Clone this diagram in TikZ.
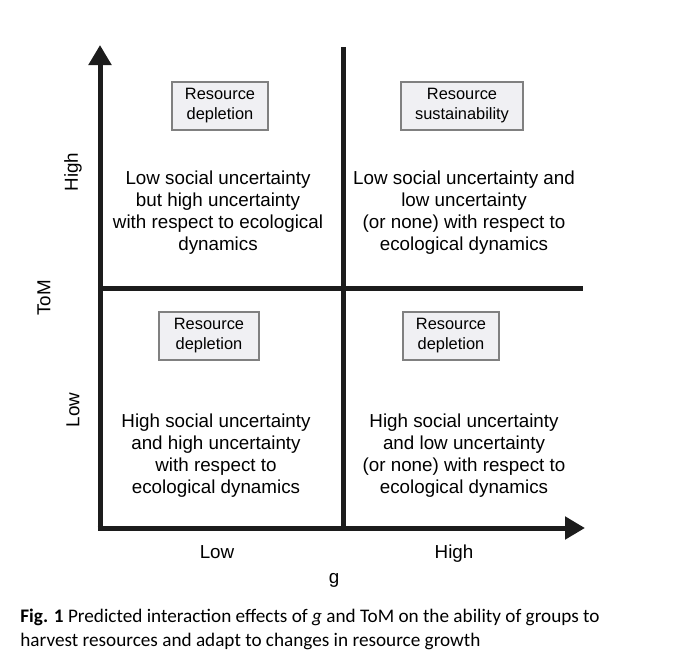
\documentclass[tikz,border=0pt]{standalone}
\usepackage{fontspec}
\setmainfont{Liberation Sans}
\newfontfamily\capfont{Carlito}
\usetikzlibrary{arrows.meta}

\definecolor{boxfill}{RGB}{240,240,243}
\definecolor{boxline}{RGB}{128,128,128}
\definecolor{ink}{RGB}{28,28,28}

\tikzstyle{res} = [rectangle, draw=boxline, line width=1.1pt, fill=boxfill, align=center, font=\fontsize{8.2}{10}\selectfont, minimum width=48pt, minimum height=24pt, inner sep=2pt]
\tikzstyle{desc} = [align=center, font=\fontsize{9.4}{11}\selectfont]
\tikzstyle{lab} = [font=\fontsize{9.4}{11}\selectfont]
\tikzstyle{ax} = [draw=ink, line width=2.5pt]
\tikzstyle{figcap} = [font=\capfont\fontsize{9.6}{12}\selectfont, inner sep=0pt]

\begin{document}
\begin{tikzpicture}[x=0.5pt, y=-0.5pt]
    \useasboundingbox (0,0) rectangle (700,664);
    % Place corners
    \coordinate (o) at (100,528);
    \coordinate (ytip) at (100,45);
    \coordinate (xtip) at (585,528);
    \coordinate (vtop) at (343,47);
    \coordinate (vbot) at (343,528);
    \coordinate (hleft) at (100,288);
    \coordinate (hright) at (583,288);

    % Quadrants
    \node [res] (tl) at (220,106) {Resource\\depletion};
    \node [res, minimum width=61pt] (tr) at (462,106) {Resource\\sustainability};
    \node [res, minimum width=50pt] (bl) at (209,336) {Resource\\depletion};
    \node [res] (br) at (451,336) {Resource\\depletion};
    \node [desc] (tltxt) at (218,213) {Low social uncertainty\\but high uncertainty\\with respect to ecological\\dynamics};
    \node [desc] (trtxt) at (464,213) {Low social uncertainty and\\low uncertainty\\(or none) with respect to\\ecological dynamics};
    \node [desc] (bltxt) at (216,456) {High social uncertainty\\and high uncertainty\\with respect to\\ecological dynamics};
    \node [desc] (brtxt) at (464,456) {High social uncertainty\\and low uncertainty\\(or none) with respect to\\ecological dynamics};

    % Axis labels
    \node [lab, rotate=90] (yhigh) at (73,172) {High};
    \node [lab, rotate=90] (ylow) at (73,410) {Low};
    \node [lab, rotate=90] (tom) at (44,298) {ToM};
    \node [lab, anchor=base] (xlow) at (217,558) {Low};
    \node [lab, anchor=base] (xhigh) at (454,558) {High};
    \node [lab, anchor=base] (g) at (334,583) {g};

    % Draw lines
    \draw [ax] (vtop) -- (vbot);
    \draw [ax] (hleft) -- (hright);
    \draw [ax, -{Triangle[width=11pt,length=10pt]}] ([yshift=-1.25pt]o) -- (ytip);
    \draw [ax, -{Triangle[width=11pt,length=10pt]}] ([xshift=-1.25pt]o) -- (xtip);

    % Caption
    \node [figcap, anchor=base west] (cap1) at (20,622) {\textbf{Fig. 1} Predicted interaction effects of \textit{g} and ToM on the ability of groups to};
    \node [figcap, anchor=base west] (cap2) at (20,646) {harvest resources and adapt to changes in resource growth};
\end{tikzpicture}
\end{document}
